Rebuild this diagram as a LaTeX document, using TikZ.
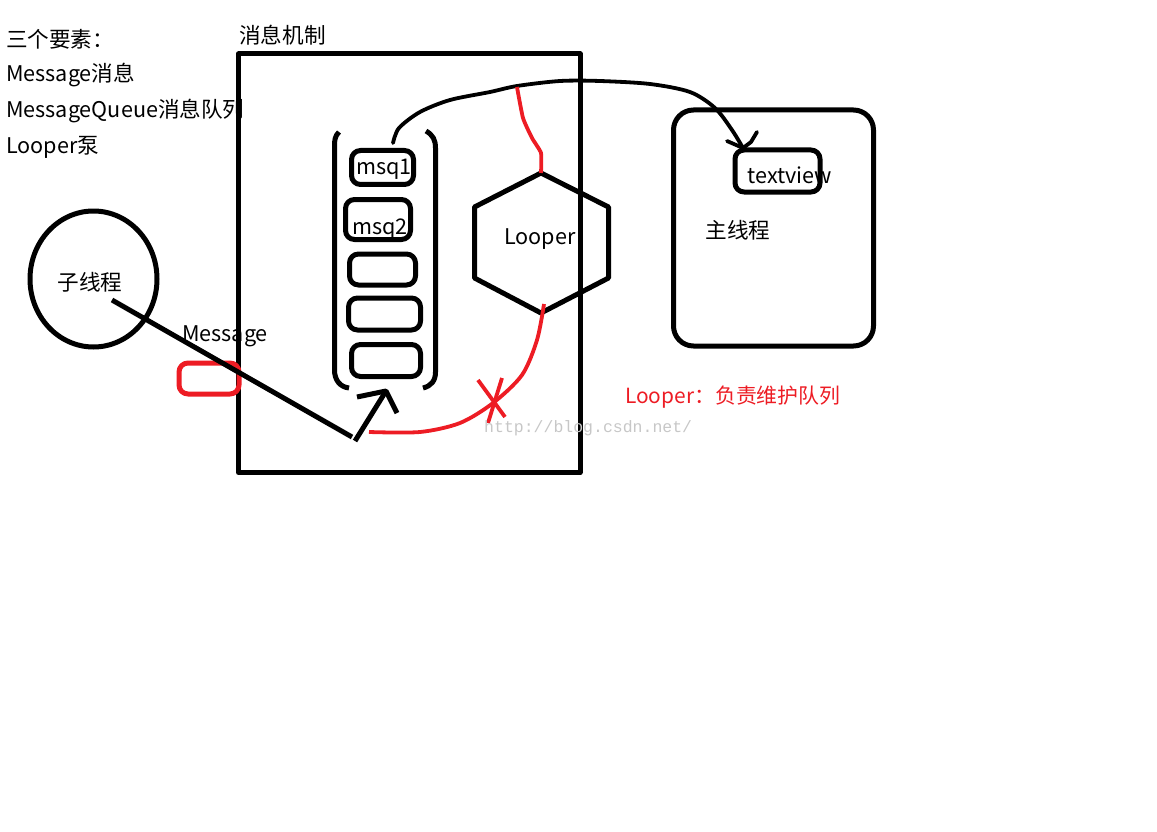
\documentclass[tikz,border=0pt]{standalone}
\usepackage{fontspec}
\setmainfont{Noto Sans CJK SC}
\newfontfamily\urlfont{Liberation Mono}
\usetikzlibrary{positioning}
\usetikzlibrary{shapes.geometric}
\definecolor{penred}{HTML}{ED1C24}
\tikzset{
  pen/.style={line width=5pt,line join=round},
  thinpen/.style={line width=3.8pt,line join=round,line cap=round},
  redpen/.style={line width=3.8pt,color=penred,line join=round},
  msqbox/.style={draw,pen,rectangle,rounded corners=9pt,inner sep=0pt},
  txt/.style={inner sep=0pt,yshift=-1.5pt,font=\fontsize{21.6}{24}\selectfont},
  lefttxt/.style={txt,anchor=west}
}
\begin{document}
\begin{tikzpicture}[x=1pt,y=-1pt]
\useasboundingbox (0,0) rectangle (1157,832);
\node[lefttxt](yaosu) at (6,38){三个要素：};
\node[lefttxt](msgtxt) at (6,74){Message消息};
\node[lefttxt](queuetxt) at (6,110){MessageQueue消息队列};
\node[lefttxt](loopertxt) at (6,146){Looper泵};
\node[lefttxt](jizhi) at (239,34){消息机制};
\draw[pen] (238.5,54) rectangle (580,472.5);
\node[draw,pen,ellipse,inner sep=0pt,minimum width=127pt,minimum height=136pt](sub) at (93.5,279){};
\node[txt](subtxt) at (90,281){子线程};
\node[txt](message) at (225,335){Message};
\node[msqbox,minimum width=62pt,minimum height=34pt](msq1) at (382.5,167.5){};
\node[txt](msq1txt) at (384,168){msq1};
\node[msqbox,minimum width=65pt,minimum height=40pt](msq2) at (378,219.5){};
\node[txt](msq2txt) at (380,228){msq2};
\node[msqbox,minimum width=66pt,minimum height=31pt](msq3) at (382.5,269.5){};
\node[msqbox,minimum width=72pt,minimum height=32pt](msq4) at (384.5,314){};
\node[msqbox,minimum width=69pt,minimum height=32pt](msq5) at (386,360.5){};
\draw[pen] (339,132) .. controls (335,136) and (334.5,140) .. (334.5,146) -- (334.5,370) .. controls (334.5,380) and (340,387) .. (349,388);
\draw[pen] (426,131) .. controls (433,135) and (435.5,140) .. (435.5,148) -- (435.5,372) .. controls (435.5,381) and (431,386) .. (423,388);
\coordinate (hextop) at (541,173);
\coordinate (hexbot) at (541,313);
\draw[pen] (hextop) -- (608.5,207) -- (608.5,278) -- (hexbot) -- (474.5,278) -- (474.5,207) -- cycle;
\node[txt](looper) at (540,238){Looper};
\node[draw,pen,rectangle,rounded corners=20pt,minimum width=200pt,minimum height=236pt](mainbox) at (773.5,228){};
\node[msqbox,minimum width=85pt,minimum height=42pt](tv) at (777.5,171){};
\node[txt](tvtxt) at (790,174){textview};
\node[txt](mainth) at (738,229){主线程};
\node[msqbox,color=penred,minimum width=60pt,minimum height=31pt](msgbox) at (209,378.5){};
\coordinate (linestart) at (112,300);
\coordinate (lineend) at (352,437);
\draw[pen] (linestart) -- (lineend);
\coordinate (arrowtail) at (355,441);
\coordinate (arrowtip) at (386,391);
\draw[pen] (arrowtail) -- (arrowtip);
\draw[pen] (357,397) -- (arrowtip) -- (397,413);
\coordinate (msqout) at (393,143);
\coordinate (tvin) at (743,148);
\draw[thinpen] plot[smooth,tension=0.5] coordinates {(msqout) (399,128) (420,112) (450,100) (490,92) (517,86) (560,81) (600,81) (650,84) (690,92) (715,108) (732,130) (tvin)};
\draw[thinpen] (727,141) -- (tvin) -- (751,142) -- (757,132);
\draw[redpen] plot[smooth,tension=0.3] coordinates {(517,87) (523,118) (532,138) (541,153) (hextop)};
\draw[redpen] plot[smooth,tension=0.5] coordinates {(544,304) (537,340) (522,375) (493,403) (460,423) (420,432) (369,432)};
\draw[redpen] (478,380) -- (505,417);
\draw[redpen] (502,378) -- (488,423);
\node[txt,text=penred,anchor=west,font=\fontsize{20.9}{24}\selectfont](lookqueue) at (625,396){Looper：负责维护队列};
\node[inner sep=0pt,anchor=west,text=black!22,font=\urlfont\fontsize{16.5}{20}\selectfont](url) at (484,428){http://blog.csdn.net/};
\end{tikzpicture}
\end{document}
